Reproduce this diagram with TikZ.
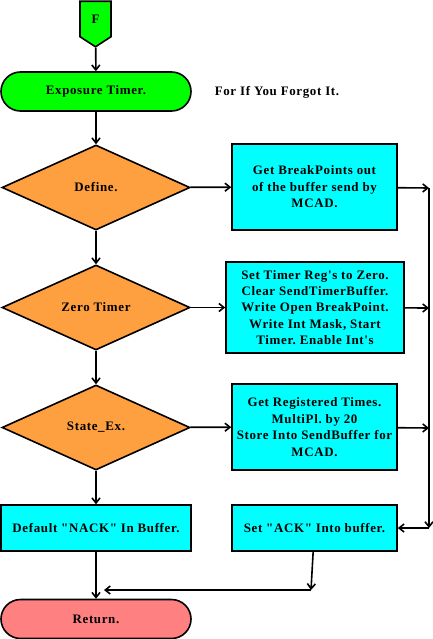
\documentclass[tikz,border=0pt]{standalone}
\usepackage{fontspec}
\setmainfont{Liberation Serif}[Ligatures=TeXOff,LetterSpace=5]
\frenchspacing
\usetikzlibrary{shapes.geometric,shapes.misc,shapes.symbols,arrows.meta}
\definecolor{flgreen}{HTML}{00FF00}
\definecolor{florange}{HTML}{FFA040}
\definecolor{flcyan}{HTML}{00FFFF}
\definecolor{flpink}{HTML}{FF8080}
\tikzset{
  every node/.style={font=\bfseries\fontsize{13}{16.5}\selectfont},
  line/.style={line width=1.6bp, >={Straight Barb[length=5bp,width=8bp]}},
  term/.style={rounded rectangle, draw, line width=1.6bp, minimum width=190bp, minimum height=39bp, inner sep=0pt},
  decide/.style={diamond, draw, line width=1.6bp, fill=florange, minimum width=188bp, minimum height=85bp, inner sep=0pt},
  proc/.style={rectangle, draw, line width=1.6bp, fill=flcyan, align=center, inner sep=0pt},
}
\begin{document}
\begin{tikzpicture}[x=1bp,y=-1bp]
            \useasboundingbox (0,0) rectangle (432,639);
            \node[signal, signal to=south, signal from=nowhere, signal pointer angle=114, draw, line width=1.6bp, fill=flgreen, minimum width=31bp, minimum height=38bp, inner sep=0pt] (F) at (95.5,19){F};
            \node[term, fill=flgreen] (A) at (96,91.5){Exposure Timer.};
            \node (N) at (277,92){For If You Forgot It.};
            \node[decide] (B) at (96,187.5){Define.};
            \node[proc, minimum width=165bp, minimum height=86bp] (C) at (314.5,187){Get BreakPoints out\\of the buffer send by\\MCAD.};
            \node[decide] (D) at (96,307.5){Zero Timer};
            \node[proc, minimum width=178bp, minimum height=91bp] (E) at (315,307.5){Set Timer Reg's to Zero.\\Clear SendTimerBuffer.\\Write Open BreakPoint.\\Write Int Mask, Start\\Timer. Enable Int's};
            \node[decide] (G) at (96,427.5){State\_Ex.};
            \node[proc, minimum width=165bp, minimum height=86bp] (H) at (314.5,427){Get Registered Times.\\MultiPl. by 20\\Store Into SendBuffer for\\MCAD.};
            \node[proc, minimum width=190bp, minimum height=46bp] (I) at (96,528){Default "NACK" In Buffer.};
            \node[proc, minimum width=165bp, minimum height=46bp] (J) at (314.5,528){Set "ACK" Into buffer.};
            \node[term, fill=flpink] (K) at (96,619){Return.};
            % right side bus and bottom join
            \coordinate (R1) at (429,188);
            \coordinate (R2) at (429,308);
            \coordinate (R3) at (429,428);
            \coordinate (R4) at (429,528);
            \coordinate (L1) at (311,590);
            \coordinate (L2) at (104,590);
            \draw[line,->] (F) -- (A);
            \draw[line,->] (A) -- (B);
            \draw[line,->] (B) -- (D);
            \draw[line,->] (D) -- (G);
            \draw[line,->] (G) -- (I);
            \draw[line,->] (I) -- (K);
            \draw[line,->] (B) -- (C);
            \draw[line,->] (D) -- (E);
            \draw[line,->] (G) -- (H);
            \draw[line,->] (C) -- (R1);
            \draw[line,->] (E) -- (R2);
            \draw[line,->] (H) -- (R3);
            \draw[line,->] (R1) -- (R4);
            \draw[line,->] (R4) -- (J);
            \draw[line,->] (J) -- (L1);
            \draw[line,->] (L1) -- (L2);
        \end{tikzpicture}
\end{document}
